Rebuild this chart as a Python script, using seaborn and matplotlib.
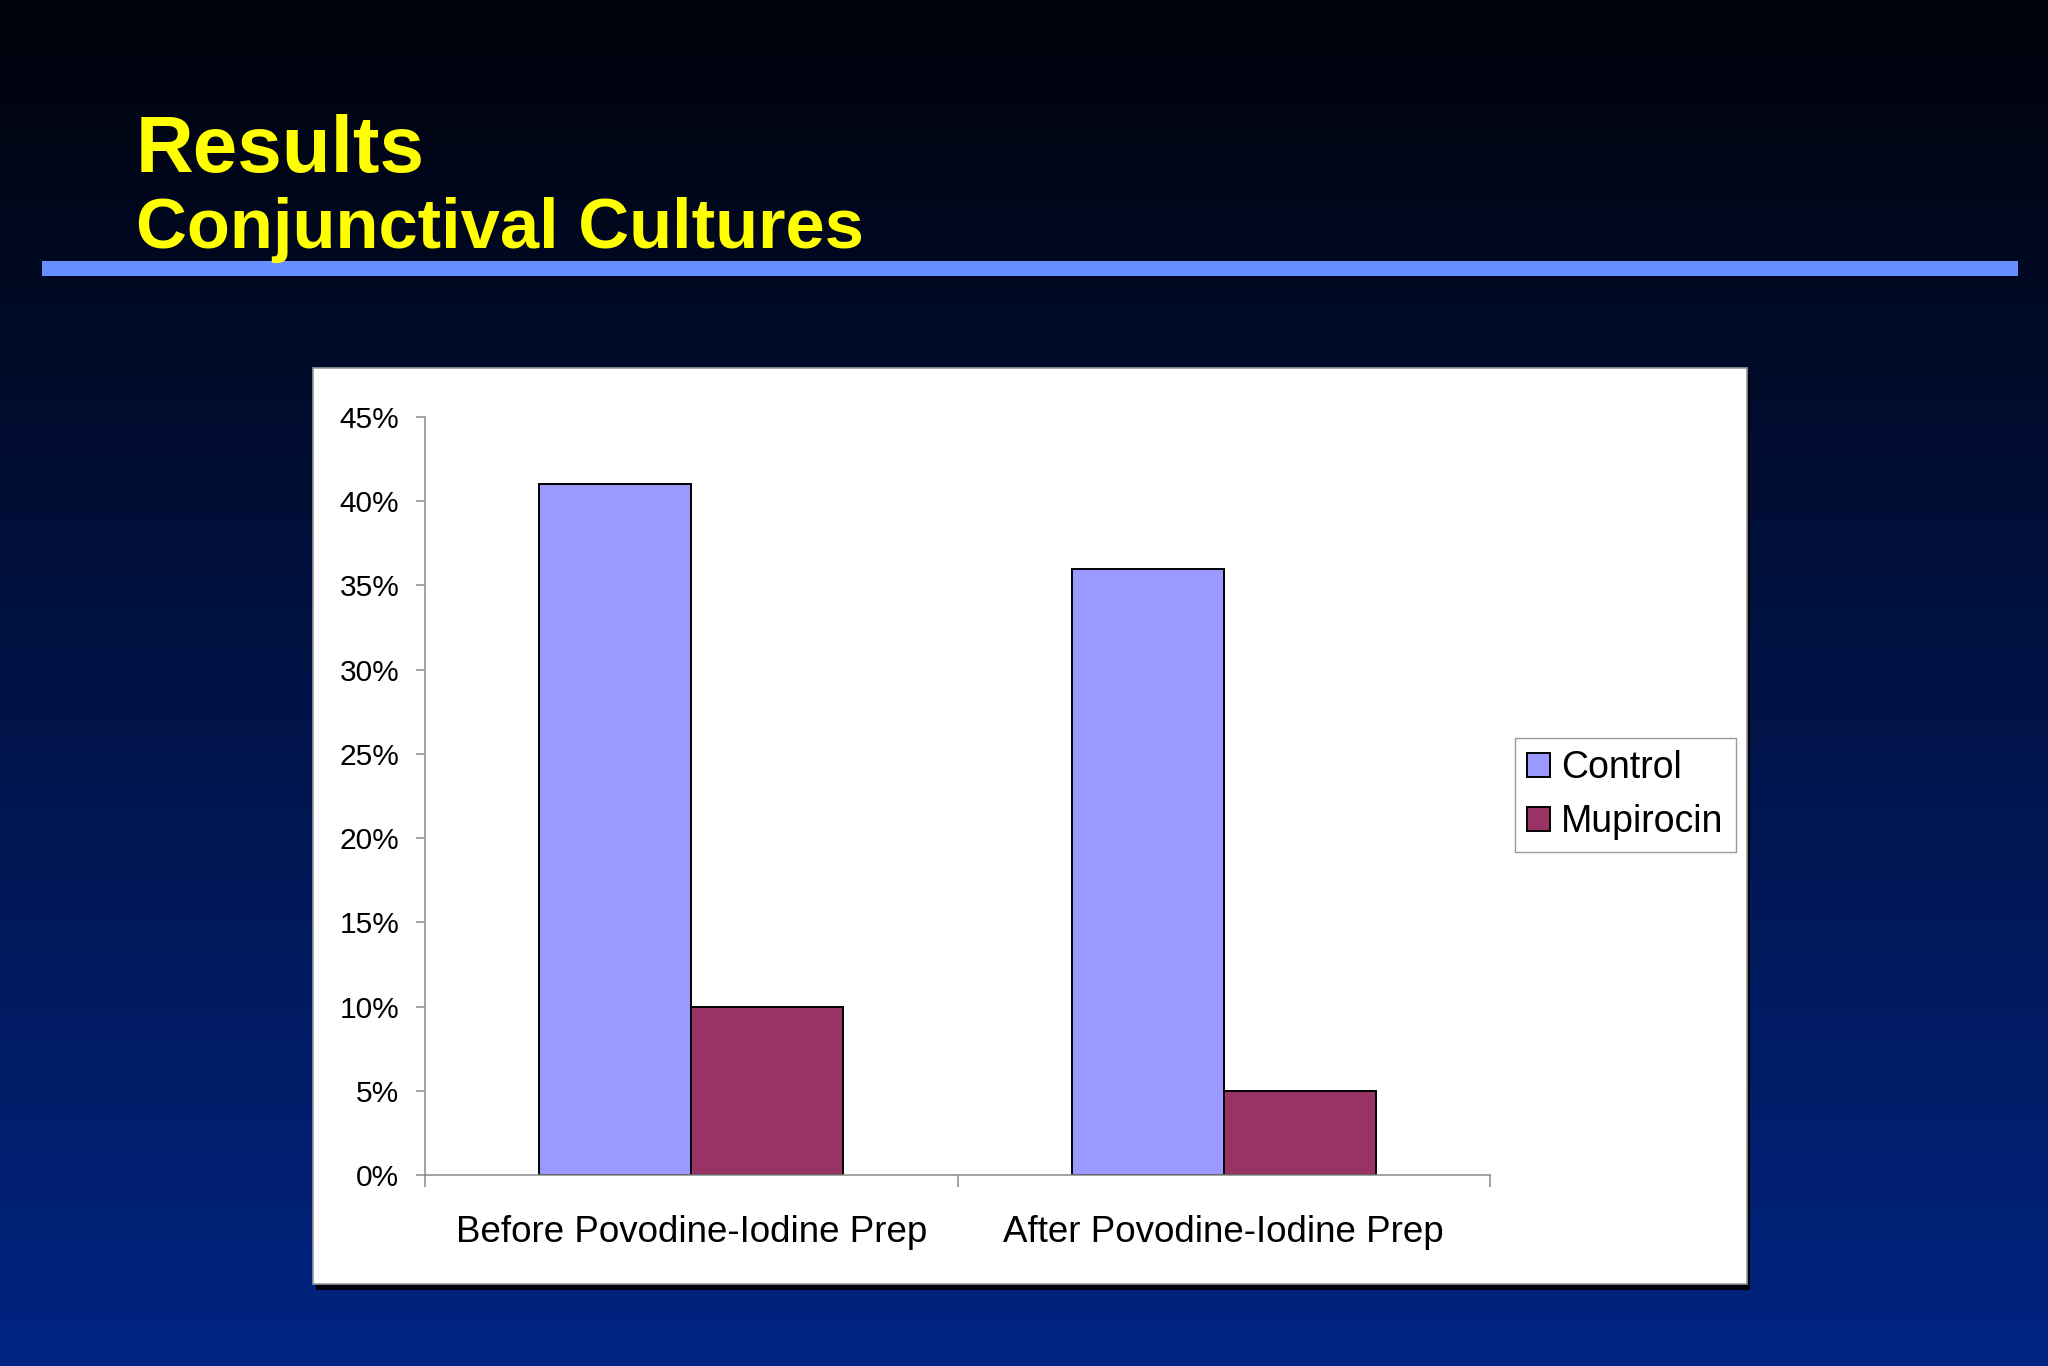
import numpy as np
import pandas as pd
import matplotlib
matplotlib.use("Agg")
import matplotlib.pyplot as plt
import matplotlib.patches as mpatches
import seaborn as sns

# ---- data ----
categories = ["Before Povodine-Iodine Prep", "After Povodine-Iodine Prep"]
series_names = ["Control", "Mupirocin"]
control_vals = [0.41, 0.36]
mupirocin_vals = [0.10, 0.05]
ytick_vals = [0.0, 0.05, 0.10, 0.15, 0.20, 0.25, 0.30, 0.35, 0.40, 0.45]
ytick_labels = ["0%", "5%", "10%", "15%", "20%", "25%", "30%", "35%", "40%", "45%"]
title_main = "Results"
title_sub = "Conjunctival Cultures"
bar_colors = ["#9999FF", "#993366"]

df = pd.DataFrame({
    "category": categories * 2,
    "series": [series_names[0]] * 2 + [series_names[1]] * 2,
    "value": control_vals + mupirocin_vals,
})

sns.set_theme(style="white")
plt.rcParams["font.family"] = ["Liberation Sans", "DejaVu Sans"]

W, H = 2048, 1366
fig = plt.figure(figsize=(W / 100, H / 100), dpi=100)

# background gradient
bg = fig.add_axes([0, 0, 1, 1], zorder=0)
top = np.array([1, 2, 10]) / 255.0
bot = np.array([0, 36, 130]) / 255.0
t = np.linspace(0, 1, 400)[:, None]
grad = (top[None, :] * (1 - t) + bot[None, :] * t)[:, None, :]
bg.imshow(grad, aspect="auto", extent=[0, 1, 0, 1], origin="upper")
bg.set_xlim(0, 1); bg.set_ylim(0, 1)
bg.axis("off")

def fx(px):
    return px / W

def fy(py):
    return 1 - py / H

# title texts
fig.text(fx(136), fy(172), title_main, color="#FFFF00", fontsize=57.5,
         fontweight="bold", va="baseline", ha="left", zorder=5)
fig.text(fx(136), fy(248), title_sub, color="#FFFF00", fontsize=50.8,
         fontweight="bold", va="baseline", ha="left", zorder=5)

# blue rule
fig.patches.append(mpatches.Rectangle((fx(42), fy(276)), fx(2018) - fx(42), fy(261) - fy(276),
                                      transform=fig.transFigure, facecolor="#6690FF",
                                      edgecolor="none", zorder=2))

# white chart box with shadow
bx0, bx1, by0, by1 = 313, 1747, 368, 1284
fig.patches.append(mpatches.Rectangle((fx(bx0 + 3), fy(by1 + 6)), fx(bx1) - fx(bx0), fy(by0) - fy(by1),
                                      transform=fig.transFigure, facecolor="#000008",
                                      edgecolor="none", zorder=2))
fig.patches.append(mpatches.Rectangle((fx(bx0), fy(by1)), fx(bx1) - fx(bx0), fy(by0) - fy(by1),
                                      transform=fig.transFigure, facecolor="white",
                                      edgecolor="#9a9a9a", linewidth=1.2, zorder=3))

# main axes
ax_l, ax_r, ax_t, ax_b = 425, 1490, 417, 1175
ax = fig.add_axes([fx(ax_l), fy(ax_b), fx(ax_r) - fx(ax_l), fy(ax_t) - fy(ax_b)], zorder=4)
ax.patch.set_alpha(0)

sns.barplot(data=df, x="category", y="value", hue="series", order=categories,
            hue_order=series_names, palette=bar_colors, width=0.571, gap=0,
            edgecolor="black", linewidth=1.4, saturation=1, ax=ax, legend=True)

ax.set_xlim(-0.5, 1.5)
ax.set_ylim(0, 0.45)
ax.set_xlabel("")
ax.set_ylabel("")
ax.set_yticks(ytick_vals)
ax.set_yticklabels(ytick_labels, fontsize=21.5, color="black")
ax.set_xticks([0, 1])
ax.set_xticklabels(categories, fontsize=26.5, color="black")
ax.set_xticks([-0.5, 0.5, 1.5], minor=True)
ax.tick_params(axis="x", which="major", length=0, pad=29)
ax.tick_params(axis="x", which="minor", length=8.5, width=1.1, color="#8a8a8a", direction="out", bottom=True)
ax.tick_params(axis="y", which="major", length=6.5, width=1.1, color="#8a8a8a", direction="out", pad=12, left=True)

for s in ["top", "right"]:
    ax.spines[s].set_visible(False)
for s in ["left", "bottom"]:
    ax.spines[s].set_color("#8a8a8a")
    ax.spines[s].set_linewidth(1.1)

handles, labels = ax.get_legend_handles_labels()
ax.legend_.remove()
leg = ax.legend(handles, labels, loc="upper left", bbox_to_anchor=(fx(1515), fy(738)),
                bbox_transform=fig.transFigure, fontsize=27, frameon=True, fancybox=False,
                edgecolor="#999999", framealpha=1, handlelength=0.6, handleheight=0.6,
                handletextpad=0.3, borderpad=0.33, labelspacing=0.47, borderaxespad=0)
leg.get_frame().set_linewidth(1.0)
for txt in leg.get_texts():
    txt.set_color("black")

fig.savefig("out.png", dpi=100)
